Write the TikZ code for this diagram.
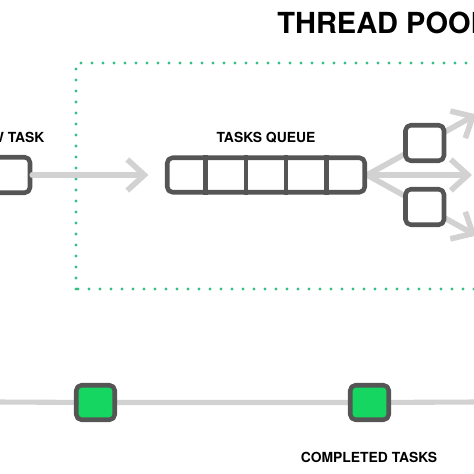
\documentclass[tikz,border=0pt]{standalone}
\usepackage{fontspec}
\setmainfont{TeX Gyre Heros}
\usetikzlibrary{arrows.meta, positioning, calc, backgrounds}

\definecolor{boxgray}{RGB}{85,85,85}
\definecolor{flowgray}{RGB}{210,210,210}
\definecolor{donegreen}{RGB}{22,214,98}
\definecolor{poolgreen}{RGB}{52,192,132}

\begin{document}
\begin{tikzpicture}[line join=round, line cap=round,
    slot/.style={draw=boxgray, line width=2.6pt, rounded corners=3pt, fill=white,
      minimum width=0.77cm, minimum height=0.71cm, inner sep=0pt},
    flow/.style={draw=flowgray, line width=3.2pt, -{Straight Barb[length=0.34cm, width=0.62cm]}},
    lbl/.style={font=\bfseries\fontsize{7.9}{9}\selectfont, inner sep=0pt, anchor=base}]
      \useasboundingbox (0,0) rectangle (9.48,9.48);
      \clip (0,0) rectangle (9.48,9.48);
      % thread pool frame
      \draw[draw=poolgreen, line width=1.8pt, dash pattern=on 0pt off 0.22cm] (1.52,3.70) rectangle (10,8.22);
      \node[inner sep=0pt, anchor=base west, font=\bfseries\fontsize{16.5}{20}\selectfont] (title) at (5.54,8.80) {THREAD POOL};
      % incoming task and queue
      \node[slot, minimum width=0.8cm] (newtask) at (0.2,5.98) {};
      \node[lbl] (newlbl) at (0.16,6.62) {NEW TASK};
      \node[slot, minimum width=3.95cm, minimum height=0.69cm] (queue) at (5.32,5.98) {};
      \foreach \k in {1,...,4}
        \draw[boxgray, line width=2.6pt, line cap=butt] ($(queue.north west)!\k/5!(queue.north east)$) -- ($(queue.south west)!\k/5!(queue.south east)$);
      \node[lbl] (queuelbl) at (5.32,6.63) {TASKS QUEUE};
      \draw[flow, shorten >=0.33cm] (newtask) -- (queue);
      % workers
      \node[slot] (t1) at ($(queue.east)+(29:1.32)$) {};
      \node[slot] (t2) at ($(queue.east)+(-29:1.32)$) {};
      \coordinate (up) at ($(queue.east)+(29:2.5)$);
      \coordinate (mid) at (9.44,5.98);
      \coordinate (down) at ($(queue.east)+(-29:2.5)$);
      \begin{scope}[on background layer]
        \draw[flow] (queue.east) -- (t1.center) -- (up);
        \draw[flow] (queue.east) -- (mid);
        \draw[flow] (queue.east) -- (t2.center) -- (down);
      \end{scope}
      % completed tasks
      \node[slot, fill=donegreen, minimum height=0.69cm] (done1) at (1.91,1.43) {};
      \node[slot, fill=donegreen, minimum height=0.69cm] (done2) at (7.39,1.43) {};
      \node[lbl] (donelbl) at (7.38,0.23) {COMPLETED TASKS};
      \coordinate (trackL) at (-0.1,1.44);
      \coordinate (trackR) at (9.6,1.44);
      \begin{scope}[on background layer]
        \draw[flowgray, line width=2.9pt] (trackL) -- (done1.center) -- (done2.center) -- (trackR);
      \end{scope}
    \end{tikzpicture}
\end{document}
